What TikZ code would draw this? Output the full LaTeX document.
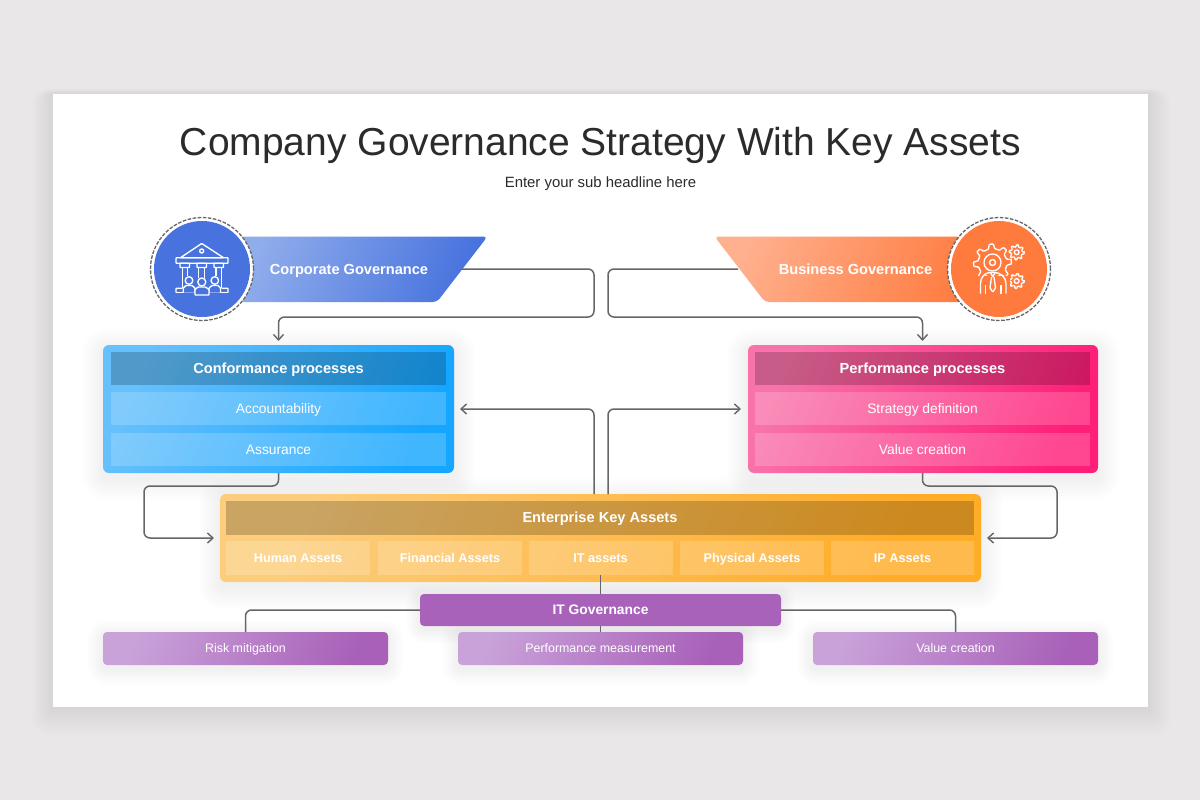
\documentclass[tikz,border=0pt]{standalone}
\usepackage{fontspec}
\setmainfont{Liberation Sans}
\usetikzlibrary{arrows.meta,calc}
\definecolor{pagebg}{HTML}{E9E7E8}
\definecolor{titleink}{HTML}{2B2B2B}
\definecolor{wire}{HTML}{666666}
\definecolor{corpA}{HTML}{8FACEB}\definecolor{corpB}{HTML}{4873DE}
\definecolor{busA}{HTML}{FFB08E}\definecolor{busB}{HTML}{FF7A3D}
\definecolor{confA}{HTML}{66C0FC}\definecolor{confB}{HTML}{16A6FF}
\definecolor{perfA}{HTML}{F873A9}\definecolor{perfB}{HTML}{FF1E78}
\definecolor{entA}{HTML}{FCCD7C}\definecolor{entB}{HTML}{FFAC27}
\definecolor{itA}{HTML}{A862BA}
\definecolor{subA}{HTML}{C9A2D9}\definecolor{subB}{HTML}{A860B8}
\newcommand{\softshadow}[5]{% x1 y1 x2 y2 spread
  \foreach \s in {1,...,14}{
    \fill[black,opacity=.0022,rounded corners={(4+\s*#5/14)*1pt}]
      ({#1-\s*#5/14},{#2-\s*#5/14+#5/4}) rectangle ({#3+\s*#5/14},{#4+\s*#5/14+#5/4});
  }}
\newcommand{\gearpath}[6]{% cx cy router rinner teeth phase
  \draw[iconline] ({#1+#3*cos(#6)},{#2+#3*sin(#6)})
  \foreach \k in {0,...,\numexpr#5-1\relax}{
    -- ({#1+#3*cos(#6+\k*360/#5+.28*360/#5)},{#2+#3*sin(#6+\k*360/#5+.28*360/#5)})
    -- ({#1+#4*cos(#6+\k*360/#5+.42*360/#5)},{#2+#4*sin(#6+\k*360/#5+.42*360/#5)})
    -- ({#1+#4*cos(#6+\k*360/#5+.86*360/#5)},{#2+#4*sin(#6+\k*360/#5+.86*360/#5)})
    -- ({#1+#3*cos(#6+\k*360/#5+360/#5)},{#2+#3*sin(#6+\k*360/#5+360/#5)})
  } -- cycle;}
\tikzset{
  x=1pt,y=-1pt,
  sized/.style 2 args={minimum width=#1pt,minimum height=#2pt,inner sep=0pt,outer sep=0pt},
  whitetext/.style={text=white,align=center},
  headfont/.style={font=\fontsize{14.6}{17}\selectfont\bfseries,text height=12.5pt,text depth=2.9pt},
  assetfont/.style={font=\fontsize{12.7}{15}\selectfont\bfseries,text height=11.1pt,text depth=2.5pt},
  itfont/.style={font=\fontsize{13.8}{16}\selectfont\bfseries,text height=11.9pt,text depth=2.8pt},
  rowfont/.style={font=\fontsize{13.8}{16}\selectfont,text height=11.9pt,text depth=2.8pt},
  smallfont/.style={font=\fontsize{12.4}{15}\selectfont,text height=10.9pt,text depth=2.5pt},
  grad/.style 2 args={left color=#1,right color=#2,shading angle=68},
  panel/.style={rectangle,rounded corners=6pt,whitetext},
  headbar/.style={rectangle,fill=black,fill opacity=.2,text opacity=1,whitetext,headfont},
  rowbar/.style={rectangle,fill=white,fill opacity=.18,text opacity=1,whitetext},
  wireline/.style={draw=wire,line width=1.5pt,rounded corners=6pt},
  arrowline/.style={wireline,-{Straight Barb[length=5.5pt,width=10pt,line width=1.4pt]}},
  iconline/.style={draw=white,line width=1.35pt,line join=round,rounded corners=.6pt},
  dashring/.style={circle,draw=wire,fill=white,line width=1.3pt,dash pattern=on 3.6pt off 1.5pt,minimum size=103pt,inner sep=0pt},
  titlefont/.style={text=titleink,font=\fontsize{39}{46}\selectfont,text height=28.1pt,text depth=7.8pt},
  subtitlefont/.style={text=titleink,font=\fontsize{14.9}{18}\selectfont,text height=10.7pt,text depth=3pt},
  bannershadow/.style={black,opacity=.0018,line join=round},
}
\begin{document}
\begin{tikzpicture}
\useasboundingbox (0,0) rectangle (1200,800);
\fill[pagebg] (0,0) rectangle (1200,800);
% card
\foreach \s in {1,...,18}{\fill[black,opacity=.0042,rounded corners={(\s*1pt)}] ({53-\s*1.2},{94-\s*.3}) rectangle ({1148+\s*1.3},{707+\s*1.6});}
\fill[white] (53,94) rectangle (1148,707);
% soft shadows
\foreach \s in {1,...,14}{
  \filldraw[bannershadow,line width={(2.6*\s)*1pt}] (250,241) -- (487,241) -- (437,306) -- (250,306) -- cycle;
  \filldraw[bannershadow,line width={(2.6*\s)*1pt}] (715,241) -- (990,241) -- (990,306) -- (765,306) -- cycle;
}
\softshadow{103}{345}{454}{473}{22}
\softshadow{748}{345}{1098}{473}{22}
\softshadow{220}{494}{981}{582}{22}
\softshadow{420}{594}{781}{626}{14}
\softshadow{103}{632}{388}{665}{16}
\softshadow{458}{632}{743}{665}{16}
\softshadow{813}{632}{1098}{665}{16}
% title
\node[titlefont] (title) at (600.5,145.5) {Company Governance Strategy With Key Assets};
\node[subtitlefont] (subtitle) at (600.5,183.5) {Enter your sub headline here};
% banners
\path[grad={corpA}{corpB},rounded corners=4pt] (232,236.5) -- (487.5,236.5) -- (437,302) -- (232,302) -- cycle;
\path[grad={busA}{busB},rounded corners=4pt] (714.5,236.5) -- (1000,236.5) -- (1000,302) -- (765,302) -- cycle;
\node[whitetext,headfont] (corpLabel) at (349,269.5) {Corporate Governance};
\node[whitetext,headfont] (busLabel) at (855.5,269.5) {Business Governance};
\coordinate (corpOut) at (462,269);
\coordinate (busOut) at (738,269);
% medallions
\node[dashring] (corpRing) at (202,269) {};
\node[circle,fill=corpB,minimum size=96pt,inner sep=0pt] (corpDisc) at (202,269) {};
\node[dashring] (busRing) at (999,269) {};
\node[circle,fill=busB,minimum size=96pt,inner sep=0pt] (busDisc) at (999,269) {};
% bank icon
\draw[iconline] (180.5,257.7) -- (201.7,243.5) -- (223.5,257.7) -- cycle;
\draw[iconline] (201.7,251) circle (2pt);
\draw[iconline] (176,257.7) rectangle (228,263.3);
\draw[iconline] (180,263.3) rectangle (189.5,267.5) (197,263.3) rectangle (206.5,267.5) (214,263.3) rectangle (223.5,267.5);
\draw[iconline] (182.3,267.5) -- (182.3,288) (187.5,267.5) -- (187.5,276) (198.8,267.5) -- (198.8,277.5) (204.8,267.5) -- (204.8,277.5) (216,267.5) -- (216,276) (221.5,267.5) -- (221.5,288);
\draw[iconline,fill=corpB] (189,280.5) circle (3.8pt) (214.8,280.5) circle (3.8pt);
\draw[iconline] (176,292.5) -- (176,288.3) -- (182.3,288.3);
\draw[iconline] (228,292.5) -- (228,288.3) -- (221.5,288.3);
\draw[iconline] (176,292.5) -- (228,292.5);
\draw[iconline,fill=corpB] (183.3,292.5) -- (183.3,288) -- (186,285.5) -- (192,285.5) -- (195,288) -- (195,292.5);
\draw[iconline,fill=corpB] (220.5,292.5) -- (220.5,288) -- (218,285.5) -- (212,285.5) -- (209,288) -- (209,292.5);
\draw[iconline,fill=corpB] (195,295) -- (195,289.5) -- (198,287) -- (205.5,287) -- (209,289.5) -- (209,295) -- cycle;
\draw[iconline,fill=corpB] (201.8,282) circle (4pt);
% person icon
\gearpath{992.5}{263}{19}{14.5}{8}{-10}
\gearpath{1016.7}{252.3}{7.6}{5.6}{8}{0}
\gearpath{1016.7}{281}{7.6}{5.6}{8}{0}
\draw[iconline] (1016.7,252.3) circle (2.4pt) (1016.7,281) circle (2.4pt);
\fill[busB] (976,276) rectangle (1009.5,296);
\draw[iconline,fill=busB] (992.5,262.5) circle (8.5pt);
\draw[iconline] (992.5,262.5) circle (3pt);
\draw[iconline] (980.5,293.5) -- (980.5,284) .. controls (980.5,277) and (985,272.5) .. (991,272.5) -- (994,272.5) .. controls (1000,272.5) and (1006,277) .. (1006,284) -- (1006,293.5);
\draw[iconline] (985.5,285) -- (985.5,293.5) (1001,285) -- (1001,293.5);
\draw[iconline] (990.5,272.5) -- (992.8,277) -- (995,272.5);
\draw[iconline] (991.5,277) -- (990,288) -- (992.8,292) -- (995.5,288) -- (994,277);
% panels
\node[panel,sized={351}{128},grad={confA}{confB}] (conf) at (278.5,409) {};
\node[headbar,sized={335}{33}] (confHead) at (278.5,368.5) {Conformance processes};
\node[rowbar,rowfont,sized={335}{33}] (confRowA) at (278.5,408.5) {Accountability};
\node[rowbar,rowfont,sized={335}{33}] (confRowB) at (278.5,449.5) {Assurance};
\node[panel,sized={350}{128},grad={perfA}{perfB}] (perf) at (923,409) {};
\node[headbar,sized={335}{33}] (perfHead) at (922.5,368.5) {Performance processes};
\node[rowbar,rowfont,sized={335}{33}] (perfRowA) at (922.5,408.5) {Strategy definition};
\node[rowbar,rowfont,sized={335}{33}] (perfRowB) at (922.5,449.5) {Value creation};
\node[panel,sized={761}{88},grad={entA}{entB}] (ent) at (600.5,538) {};
\node[headbar,sized={748}{34}] (entHead) at (600,518) {Enterprise Key Assets};
\node[rowbar,assetfont,sized={144}{34}] (assetA) at (298,558) {Human Assets};
\node[rowbar,assetfont,sized={144}{34}] (assetB) at (450,558) {Financial Assets};
\node[rowbar,assetfont,sized={144}{34}] (assetC) at (600.5,558) {IT assets};
\node[rowbar,assetfont,sized={144}{34}] (assetD) at (752,558) {Physical Assets};
\node[rowbar,assetfont,sized={143}{34}] (assetE) at (902.5,558) {IP Assets};
\node[panel,rounded corners=4pt,sized={361}{32},fill=itA,itfont] (itg) at (600.5,610) {IT Governance};
\node[panel,rounded corners=4pt,sized={285}{33},grad={subA}{subB},smallfont] (risk) at (245.5,648.5) {Risk mitigation};
\node[panel,rounded corners=4pt,sized={285}{33},grad={subA}{subB},smallfont] (measure) at (600.5,648.5) {Performance measurement};
\node[panel,rounded corners=4pt,sized={285}{33},grad={subA}{subB},smallfont] (value) at (955.5,648.5) {Value creation};
% routing points
\coordinate (railL) at (594,317);
\coordinate (railR) at (608,317);
\coordinate (loopL) at (144,486);
\coordinate (loopR) at (1057,486);
% connectors
\draw[arrowline] (corpOut) -- (corpOut -| railL) -- (railL) -- (railL -| conf.north) -- ($(conf.north)+(0,-4)$);
\draw[arrowline] (busOut) -- (busOut -| railR) -- (railR) -- (railR -| perfHead.north) -- ($(perfHead.north)+(0,-11)$);
\draw[arrowline] (railL |- ent.north) -- (railL |- conf.east) -- ($(conf.east)+(6,0)$);
\draw[arrowline] (railR |- ent.north) -- (railR |- perf.west) -- ($(perf.west)+(-7,0)$);
\draw[arrowline] (conf.south) -- (conf.south |- loopL) -- (loopL) -- (loopL |- ent.west) -- ($(ent.west)+(-6,0)$);
\draw[arrowline] (perfHead.south |- perf.south) -- (perfHead.south |- loopR) -- (loopR) -- (loopR |- ent.east) -- ($(ent.east)+(6,0)$);
\draw[wireline] (itg.west) -- (itg.west -| risk.north) -- (risk.north);
\draw[wireline] (itg.east) -- (itg.east -| value.north) -- (value.north);
\draw[wireline] (assetC.south) -- (assetC.south |- itg.north);
\draw[wireline] (itg.south) -- (itg.south |- measure.north);
\end{tikzpicture}
\end{document}
